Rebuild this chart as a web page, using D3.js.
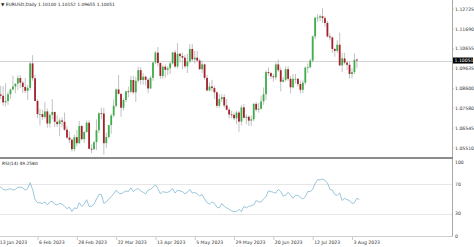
<!DOCTYPE html>
<html>
<head>
<meta charset="utf-8">
<script src="https://cdn.jsdelivr.net/npm/d3@7"></script>
<style>
  html, body { margin: 0; padding: 0; background: #fff; }
  svg { display: block; font-family: "DejaVu Sans", sans-serif; }
</style>
</head>
<body>
<div id="chart"></div>
<script>
// EURUSD daily bars, 13 Jan 2023 .. 7 Aug 2023
const opens = [
  1.0852,1.0829,1.0822,1.0788,1.0795,1.0830,1.0855,1.0870,1.0885,1.0914,1.0890,1.0868,1.0848,
  1.0863,1.0990,1.0913,1.0795,1.0727,1.0727,1.0712,1.0741,1.0678,1.0723,1.0738,1.0687,1.0675,1.0694,1.0687,1.0646,1.0605,1.0594,1.0545,1.0607,
  1.0576,1.0665,1.0597,1.0634,1.0682,1.0547,1.0545,1.0581,1.0643,1.0731,1.0730,1.0576,1.0608,1.0670,1.0720,1.0770,1.0855,1.0832,1.0760,1.0800,1.0845,1.0843,1.0904,
  1.0840,1.0900,1.0955,1.0904,1.0921,1.0905,1.0860,1.0915,1.0995,1.1046,1.0992,1.0925,1.0973,1.0957,1.0965,1.0990,1.1047,1.0974,1.1040,1.1028,
  1.1020,1.0975,1.1000,1.1065,1.1011,1.1020,1.1005,1.0960,1.0985,1.0915,1.0850,1.0870,1.0862,1.0840,1.0770,1.0805,1.0815,1.0772,1.0750,1.0725,1.0723,1.0705,1.0735,
  1.0688,1.0762,1.0708,1.0713,1.0693,1.0700,1.0780,1.0750,1.0755,1.0793,1.0830,1.0945,1.0940,1.0923,1.0918,1.0985,1.0955,1.0895,1.0905,1.0960,1.0910,1.0866,
  1.0910,1.0910,1.0883,1.0853,1.0890,1.0968,1.0970,1.1005,1.1130,1.1227,1.1228,1.1235,1.1225,1.1200,1.1130,1.1125,1.1065,1.1055,1.1087,1.0980,1.1016,
  1.0994,1.0983,1.0935,1.0945,1.1010
];
const highs = [
  1.0874,1.0874,1.0872,1.0887,1.0843,1.0859,1.0927,1.0886,1.0928,1.0929,1.0900,1.0915,1.0878,
  1.1000,1.1033,1.0930,1.0805,1.0755,1.0750,1.0790,1.0755,1.0730,1.0805,1.0740,1.0720,1.0705,1.0710,1.0735,1.0664,1.0637,1.0601,1.0620,1.0645,
  1.0691,1.0670,1.0640,1.0694,1.0695,1.0570,1.0587,1.0700,1.0737,1.0760,1.0760,1.0630,1.0670,1.0730,1.0803,1.0860,1.0930,1.0835,1.0810,1.0848,1.0870,1.0925,1.0925,
  1.0920,1.0973,1.0970,1.0940,1.0925,1.0915,1.0925,1.0998,1.1055,1.1075,1.0995,1.0980,1.0985,1.0975,1.1000,1.1050,1.1060,1.1095,1.1045,1.1045,
  1.1035,1.1040,1.1090,1.1092,1.1055,1.1055,1.1015,1.1005,1.0990,1.0930,1.0890,1.0905,1.0875,1.0845,1.0830,1.0830,1.0830,1.0805,1.0760,1.0745,1.0735,1.0745,1.0745,
  1.0775,1.0780,1.0725,1.0720,1.0720,1.0785,1.0790,1.0785,1.0822,1.0865,1.0955,1.0970,1.0945,1.0935,1.0995,1.1010,1.0970,1.0920,1.0975,1.0975,1.0925,1.0935,
  1.0935,1.0915,1.0900,1.0905,1.0975,1.0990,1.1015,1.1135,1.1230,1.1245,1.1245,1.1276,1.1235,1.1210,1.1145,1.1130,1.1070,1.1110,1.1150,1.1045,1.1045,
  1.1005,1.1000,1.0965,1.1042,1.10152
];
const lows = [
  1.0780,1.0805,1.0770,1.0766,1.0775,1.0806,1.0850,1.0835,1.0853,1.0862,1.0836,1.0836,1.0800,
  1.0850,1.0900,1.0795,1.0706,1.0669,1.0697,1.0704,1.0656,1.0658,1.0700,1.0660,1.0660,1.0612,1.0660,1.0640,1.0598,1.0577,1.0533,1.0533,1.0560,
  1.0573,1.0590,1.0577,1.0630,1.0545,1.0524,1.0540,1.0540,1.0628,1.0700,1.0516,1.0550,1.0600,1.0625,1.0710,1.0760,1.0830,1.0713,1.0745,1.0788,1.0815,1.0835,1.0830,
  1.0790,1.0890,1.0880,1.0880,1.0875,1.0835,1.0857,1.0900,1.0985,1.0975,1.0910,1.0910,1.0915,1.0930,1.0935,1.0985,1.0965,1.0965,1.0995,1.0960,
  1.0965,1.0940,1.0990,1.1000,1.0990,1.0995,1.0955,1.0940,1.0905,1.0845,1.0845,1.0845,1.0805,1.0760,1.0760,1.0790,1.0760,1.0745,1.0705,1.0705,1.0695,1.0675,1.0635,
  1.0668,1.0705,1.0675,1.0665,1.0665,1.0690,1.0740,1.0735,1.0750,1.0775,1.0800,1.0925,1.0910,1.0895,1.0905,1.0945,1.0845,1.0890,1.0895,1.0900,1.0835,1.0860,
  1.0885,1.0870,1.0835,1.0835,1.0880,1.0940,1.0965,1.0995,1.1115,1.1205,1.1210,1.1200,1.1180,1.1125,1.1110,1.1045,1.1025,1.1045,1.0975,1.0945,1.0985,
  1.0955,1.0912,1.0912,1.0935,1.09655
];
const closes = [
  1.0829,1.0822,1.0788,1.0795,1.0830,1.0855,1.0870,1.0885,1.0914,1.0890,1.0868,1.0848,1.0863,
  1.0990,1.0913,1.0795,1.0727,1.0727,1.0712,1.0741,1.0678,1.0723,1.0738,1.0687,1.0675,1.0694,1.0687,1.0646,1.0605,1.0594,1.0545,1.0607,1.0576,
  1.0665,1.0597,1.0634,1.0682,1.0547,1.0545,1.0581,1.0643,1.0731,1.0730,1.0576,1.0608,1.0670,1.0720,1.0770,1.0855,1.0832,1.0760,1.0800,1.0845,1.0843,1.0904,1.0840,
  1.0900,1.0955,1.0904,1.0921,1.0905,1.0860,1.0915,1.0995,1.1046,1.0992,1.0925,1.0973,1.0957,1.0965,1.0990,1.1047,1.0974,1.1040,1.1028,1.1020,
  1.0975,1.1000,1.1065,1.1011,1.1020,1.1005,1.0960,1.0985,1.0915,1.0850,1.0870,1.0862,1.0840,1.0770,1.0805,1.0815,1.0772,1.0750,1.0725,1.0723,1.0705,1.0735,1.0688,
  1.0762,1.0708,1.0713,1.0693,1.0700,1.0780,1.0750,1.0755,1.0793,1.0830,1.0945,1.0940,1.0923,1.0918,1.0985,1.0955,1.0895,1.0905,1.0960,1.0910,1.0866,1.0910,
  1.0910,1.0883,1.0853,1.0890,1.0968,1.0970,1.1005,1.1130,1.1227,1.1228,1.1235,1.1225,1.1200,1.1130,1.1125,1.1065,1.1055,1.1087,1.0980,1.1016,1.0994,
  1.0983,1.0935,1.0945,1.1008,1.10051
];
// RSI(14) line as drawn in the lower pane
const rsiValues = [
  67,66,63,62,63,64,62,63,66,66,65,62,64,
  72,63,49,45,45,44,46,42,46,47,43,42,44,43,40,37,39,33,38,37,
  45,40,43,49,40,40,43,50,56,56,44,46,50,53,57,62,58,57,59,61,60,65,60,
  63,64,61,59,57,62,63,66,69,64,57,60,59,59,61,64,58,62,61,60,
  57,59,63,58,59,57,54,56,50,45,43,46,44,39,38,44,40,38,36,34,33,
  33,36,33,40,38,40,41,42,48,46,46,50,53,61,60,59,58,63,60,54,55,
  59,55,51,55,55,52,50,53,60,60,63,71,76,76,77,75,72,63,62,56,55,
  58,48,51,49,48,44,45,51,49.258
];
const priceTicks = ["1.12725", "1.11690", "1.10655", "1.09635", "1.08600", "1.07580", "1.06545", "1.05510"];
const rsiTicks = [100, 70, 30, 0];
const rsiLevels = [70, 30];
const timeLabels = ["13 Jan 2023", "6 Feb 2023", "28 Feb 2023", "22 Mar 2023", "13 Apr 2023",
                    "5 May 2023", "29 May 2023", "20 Jun 2023", "12 Jul 2023", "3 Aug 2023"];
const labelStep = 16;
const header = "EURUSD,Daily 1.10100 1.10152 1.09655 1.10051";
const rsiTitle = "RSI(14) 49.2580";
const lastPrice = 1.10051;

const width = 474, height = 247;
const axisX = 452;

const svg = d3.select("#chart").append("svg")
    .attr("width", width)
    .attr("height", height);

const n = closes.length;
const x = d3.scaleLinear().domain([0, n - 1]).range([-1.8, 356.9]);
const y = d3.scaleLinear().domain([1.05510, 1.12725]).range([148, 9]);
const yr = d3.scaleLinear().domain([0, 100]).range([236, 162]);

const bars = closes.map((c, i) => ({ i, o: opens[i], h: highs[i], l: lows[i], c }));

svg.append("defs").append("clipPath").attr("id", "clip")
  .append("rect").attr("x", 0).attr("y", 0).attr("width", axisX).attr("height", 236);

// current price line
svg.append("line")
    .attr("x1", 0).attr("x2", axisX)
    .attr("y1", Math.round(y(lastPrice)) + 0.5).attr("y2", Math.round(y(lastPrice)) + 0.5)
    .attr("stroke", "#d4d4d4").attr("stroke-width", 1);

// candles
const cg = svg.append("g").attr("clip-path", "url(#clip)");
cg.selectAll("line.wick").data(bars).enter().append("line")
    .attr("class", "wick")
    .attr("x1", d => x(d.i)).attr("x2", d => x(d.i))
    .attr("y1", d => y(d.h)).attr("y2", d => y(d.l))
    .attr("stroke", "#b3b3b3").attr("stroke-width", 0.8);
cg.selectAll("rect.body").data(bars).enter().append("rect")
    .attr("class", "body")
    .attr("x", d => x(d.i) - 0.9)
    .attr("width", 1.8)
    .attr("y", d => y(Math.max(d.o, d.c)))
    .attr("height", d => Math.max(0.8, Math.abs(y(d.o) - y(d.c))))
    .attr("fill", d => d.c >= d.o ? "#3fae4a" : "#a3222a");

// pane borders
svg.append("line").attr("x1", axisX + 0.5).attr("x2", axisX + 0.5).attr("y1", 0).attr("y2", 237)
    .attr("stroke", "#a8a8a8");
svg.append("line").attr("x1", 0).attr("x2", axisX + 1).attr("y1", 158).attr("y2", 158)
    .attr("stroke", "#8c8c8c").attr("stroke-width", 2);
svg.append("line").attr("x1", 0).attr("x2", axisX + 1).attr("y1", 236.5).attr("y2", 236.5)
    .attr("stroke", "#cfcfcf");

// price axis
const priceAxis = svg.append("g").attr("font-size", 4.6).attr("fill", "#333");
priceAxis.selectAll("text").data(priceTicks).enter().append("text")
    .attr("x", axisX + 3)
    .attr("y", d => y(+d) + 1.6)
    .text(d => d);
priceAxis.selectAll("line").data(priceTicks).enter().append("line")
    .attr("x1", axisX).attr("x2", axisX + 2)
    .attr("y1", d => y(+d)).attr("y2", d => y(+d))
    .attr("stroke", "#a8a8a8").attr("stroke-width", 0.6);
svg.append("rect")
    .attr("x", axisX + 1).attr("y", y(lastPrice) - 3)
    .attr("width", 20).attr("height", 6)
    .attr("fill", "#000");
svg.append("text")
    .attr("x", axisX + 2.5).attr("y", y(lastPrice) + 1.7)
    .attr("font-size", 4.6).attr("fill", "#fff")
    .text(lastPrice.toFixed(5));

// header
svg.append("text").attr("x", 1).attr("y", 6).attr("font-size", 4.4).attr("fill", "#222")
    .text("\u25BC " + header);

// RSI pane
svg.append("g").selectAll("line").data(rsiLevels).enter().append("line")
    .attr("x1", 0).attr("x2", axisX)
    .attr("y1", d => Math.round(yr(d)) + 0.5).attr("y2", d => Math.round(yr(d)) + 0.5)
    .attr("stroke", "#e6e6e6").attr("stroke-width", 1);
svg.append("path").datum(rsiValues)
    .attr("clip-path", "url(#clip)")
    .attr("fill", "none")
    .attr("stroke", "#8fbfd6")
    .attr("stroke-width", 0.9)
    .attr("d", d3.line().x((d, i) => x(i)).y(d => yr(d)));
svg.append("text").attr("x", 2).attr("y", 165).attr("font-size", 4.4).attr("fill", "#222")
    .text(rsiTitle);
const rsiAxis = svg.append("g").attr("font-size", 4.6).attr("fill", "#333");
rsiAxis.selectAll("text").data(rsiTicks).enter().append("text")
    .attr("x", axisX + 3)
    .attr("y", d => yr(d) + 1.6)
    .text(d => d);

// time axis
const tg = svg.append("g").attr("font-size", 4.6).attr("fill", "#333");
tg.selectAll("text").data(timeLabels).enter().append("text")
    .attr("x", (d, k) => x(k * labelStep) + 1.5)
    .attr("y", 244)
    .text(d => d);
tg.selectAll("line").data(timeLabels).enter().append("line")
    .attr("x1", (d, k) => x(k * labelStep) + 0.5).attr("x2", (d, k) => x(k * labelStep) + 0.5)
    .attr("y1", 237).attr("y2", 240)
    .attr("stroke", "#a8a8a8").attr("stroke-width", 0.6);
</script>
</body>
</html>
